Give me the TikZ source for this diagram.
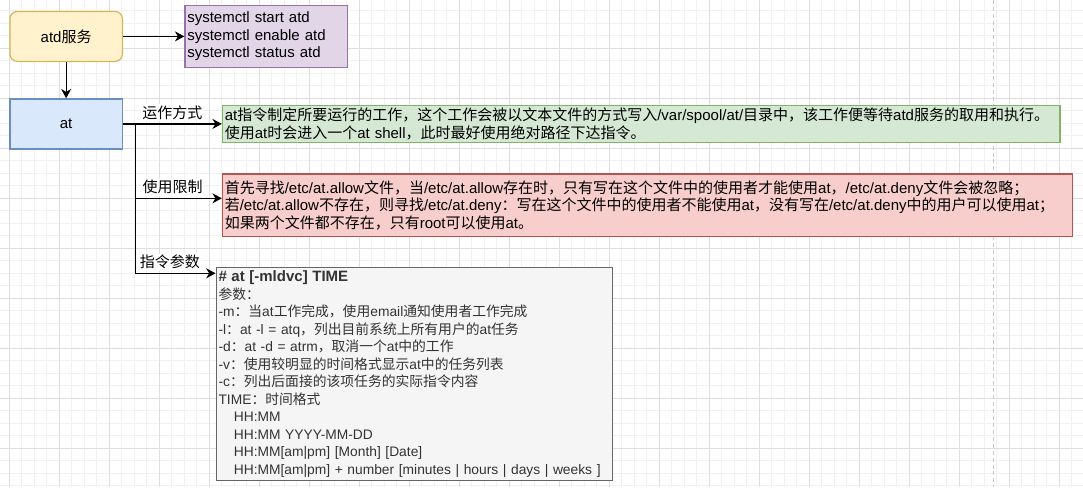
\documentclass[tikz,border=0pt]{standalone}
\usepackage{fontspec}
\setmainfont{Liberation Sans}
\newfontfamily\latinfam{Liberation Sans}
\newfontfamily\cjkfam{Noto Sans CJK SC}
\usetikzlibrary{arrows.meta}

% switch to the CJK font for Chinese characters and full-width punctuation
\XeTeXinterchartokenstate=1
\newXeTeXintercharclass\cjkclass
\newcount\cjkcode
\newcommand\setcjkrange[2]{%
  \cjkcode=#1\relax
  \loop
    \XeTeXcharclass\cjkcode=\cjkclass
    \advance\cjkcode by 1\relax
  \ifnum\cjkcode<#2\relax\repeat}
\setcjkrange{"3000}{"3040}
\setcjkrange{"4E00}{"A000}
\setcjkrange{"FF00}{"FFF0}
\XeTeXinterchartoks 0 \cjkclass = {\cjkfam}
\XeTeXinterchartoks 4095 \cjkclass = {\cjkfam}
\XeTeXinterchartoks \cjkclass 0 = {\latinfam}
\XeTeXinterchartoks \cjkclass 4095 = {\latinfam}

\definecolor{yellowfill}{HTML}{FFF2CC}
\definecolor{yellowline}{HTML}{D6B656}
\definecolor{purplefill}{HTML}{E1D5E7}
\definecolor{purpleline}{HTML}{9673A6}
\definecolor{bluefill}{HTML}{DAE8FC}
\definecolor{blueline}{HTML}{6C8EBF}
\definecolor{greenfill}{HTML}{D5E8D4}
\definecolor{greenline}{HTML}{82B366}
\definecolor{redfill}{HTML}{F8CECC}
\definecolor{redline}{HTML}{B85450}
\definecolor{grayfill}{HTML}{F5F5F5}
\definecolor{grayline}{HTML}{666666}
\definecolor{graytext}{HTML}{333333}
\definecolor{minorgrid}{HTML}{F1F1F1}
\definecolor{majorgrid}{HTML}{DEDEDE}
\definecolor{pageline}{HTML}{C8C8C8}

\newcommand\drawiofont{\fontsize{11.25pt}{13.125pt}\selectfont}
\newcommand\paramfont{\fontsize{10.35pt}{13.125pt}\selectfont}

\tikzset{
  flowbox/.style={rectangle, draw, line width=0.9pt, minimum width=84.375pt, minimum height=37.5pt,
    anchor=north west, align=center, font=\drawiofont},
  notebox/.style={rectangle, draw, line width=0.9pt, anchor=north west, align=left,
    inner xsep=1.8pt, inner ysep=0pt, font=\drawiofont},
  arr/.style={-{Stealth[length=7pt,width=7.5pt,inset=2.2pt]}, line width=0.9pt},
  edgelabel/.style={fill=white, inner sep=1.2pt, font=\drawiofont},
}

\begin{document}
\begin{tikzpicture}[x=0.75pt, y=-0.75pt]
  \useasboundingbox (0,0) rectangle (1083,487);
  % background grid and page break
  \foreach \gx in {-3.2,9.3,...,1090} \draw[minorgrid, line width=0.6pt] (\gx,0) -- (\gx,487);
  \foreach \gy in {-1.7,10.8,...,495} \draw[minorgrid, line width=0.6pt] (0,\gy) -- (1083,\gy);
  \foreach \gx in {9.3,59.3,...,1090} \draw[majorgrid, line width=0.6pt] (\gx,0) -- (\gx,487);
  \foreach \gy in {-1.7,48.3,...,495} \draw[majorgrid, line width=0.6pt] (0,\gy) -- (1083,\gy);
  \draw[pageline, line width=1.2pt, dash pattern=on 3pt off 2.2pt] (993.3,0) -- (993.3,487);

  \node[flowbox, draw=yellowline, fill=yellowfill, rounded corners=5.6pt] (atd) at (9.3,10.8) {atd服务};
  \node[flowbox, draw=blueline, fill=bluefill] (at) at (9.3,98.3) {at};

  \node[notebox, draw=purpleline, fill=purplefill, text width=118.275pt, minimum height=46.875pt] (service) at (184.3,4.55) {
    systemctl start atd\\
    systemctl enable atd\\
    systemctl status atd};

  \node[notebox, draw=greenline, fill=greenfill, text width=624.525pt, minimum height=28.125pt] (howto) at (221.8,104.55) {
    at指令制定所要运行的工作，这个工作会被以文本文件的方式写入/var/spool/at/目录中，该工作便等待atd服务的取用和执行。\\
    使用at时会进入一个at shell，此时最好使用绝对路径下达指令。};

  \node[notebox, draw=redline, fill=redfill, text width=633.9pt, minimum height=46.875pt] (limit) at (221.8,173.3) {
    首先寻找/etc/at.allow文件，当/etc/at.allow存在时，只有写在这个文件中的使用者才能使用at，/etc/at.deny文件会被忽略；\\
    若/etc/at.allow不存在，则寻找/etc/at.deny：写在这个文件中的使用者不能使用at，没有写在/etc/at.deny中的用户可以使用at；\\
    如果两个文件都不存在，只有root可以使用at。};

  \node[notebox, draw=grayline, fill=grayfill, text=graytext, text width=293.6pt, minimum height=159.375pt,
    font=\paramfont] (params) at (215.55,267.05) {
    {\drawiofont\bfseries \# at [-mldvc] TIME}\\
    参数：\\
    -m：当at工作完成，使用email通知使用者工作完成\\
    -l：at -l = atq，列出目前系统上所有用户的at任务\\
    -d：at -d = atrm，取消一个at中的工作\\
    -v：使用较明显的时间格式显示at中的任务列表\\
    -c：列出后面接的该项任务的实际指令内容\\
    TIME：时间格式\\
    \hspace*{11.5pt}HH:MM\\
    \hspace*{11.5pt}HH:MM YYYY-MM-DD\\
    \hspace*{11.5pt}HH:MM[am|pm] [Month] [Date]\\
    \hspace*{11.5pt}HH:MM[am|pm] + number [minutes | hours | days | weeks ]};

  \coordinate (fork) at ([xshift=9.375pt]at.east);
  \coordinate (limitin) at ([yshift=-18.75pt]limit.north west);
  \coordinate (paramsin) at ([yshift=-4.6875pt]params.north west);

  \draw[arr] (atd.east) -- (service.west);
  \draw[arr] (atd.south) -- (at.north);
  \draw[arr] (at.east) -- node[edgelabel, above=1.5pt] {运作方式} (howto.west);
  \draw[arr] (at.east) -- (fork) |- node[edgelabel, pos=0.715, above=1.5pt] {使用限制} (limitin);
  \draw[arr] (at.east) -- (fork) |- node[edgelabel, pos=0.715, above=1.5pt] {指令参数} (paramsin);
\end{tikzpicture}
\end{document}
